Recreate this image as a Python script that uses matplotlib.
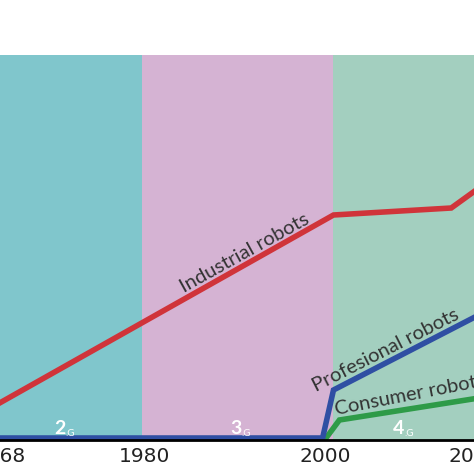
import matplotlib.pyplot as plt

# x positions of the year ticks on the (uneven) time axis
tick_pos = [-4, 142, 325, 475]
tick_labels = ['1968', '1980', '2000', '2020']

# generation bands (start, end, colour)
band_edges = [-60, 139, 333, 540]
band_colors = ['#80c6cc', '#d5b3d3', '#a3cfbf']
gen_names = ['2', '3', '4']
gen_x = [62, 240, 405]

# series (x position, level)
ind_x = [-60, 333, 452, 480]
ind_y = [40, 259, 266, 286]
prof_x = [-60, 322, 333, 474]
prof_y = [36, 36, 84, 156]
cons_x = [324, 339, 480]
cons_y = [34, 54, 76]

fig = plt.figure(figsize=(4.74, 4.74), dpi=100)
ax = fig.add_axes([0, 34 / 474, 1, 385 / 474])
plt.rcParams['font.family'] = ['Lato', 'DejaVu Sans']

for i in range(3):
    ax.axvspan(band_edges[i], band_edges[i + 1], color=band_colors[i], lw=0)
    ax.text(gen_x[i], 45, gen_names[i], color='white', fontsize=14, fontweight='bold',
            ha='right', va='center', family='Lato')
    ax.text(gen_x[i], 41, '.G', color='white', fontsize=7, ha='left', va='center', family='Lato')

ax.plot(ind_x, ind_y, color='#d0343a', lw=4, solid_joinstyle='miter')
ax.plot(cons_x, cons_y, color='#2e9b48', lw=4, solid_joinstyle='miter')
ax.plot(prof_x, prof_y, color='#2f4fa3', lw=4, solid_joinstyle='miter')

ax.text(243, 221, 'Industrial robots', rotation=29, fontsize=14.5, color='#333333',
        ha='center', va='center', family='Lato')
ax.text(386, 124, 'Profesional robots', rotation=27, fontsize=14.5, color='#333333',
        ha='center', va='center', family='Lato')
ax.text(410, 79, 'Consumer robots', rotation=11, fontsize=14.5, color='#333333',
        ha='center', va='center', family='Lato')

ax.set_xlim(0, 474)
ax.set_ylim(34, 419)
ax.set_xticks(tick_pos)
ax.set_xticklabels(tick_labels, fontsize=14.5, color='#222222')
ax.tick_params(axis='x', length=0, pad=5)
ax.set_yticks([])
for s in ['top', 'left', 'right']:
    ax.spines[s].set_visible(False)
ax.spines['bottom'].set_linewidth(2)
ax.spines['bottom'].set_zorder(5)

fig.savefig('out.png', dpi=100)
